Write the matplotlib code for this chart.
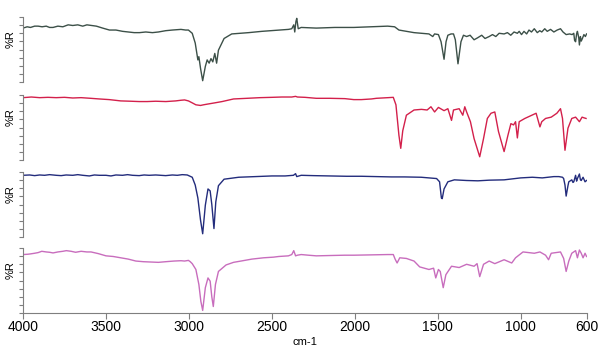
import matplotlib.pyplot as plt

plt.rcParams['font.family'] = ['Liberation Sans', 'DejaVu Sans']

# wavenumber (cm-1) / %R pairs, top to bottom
wn_1 = [4000, 3975, 3955, 3930, 3909, 3885, 3860, 3840, 3819, 3790, 3760, 3728, 3700, 3670, 3640,
        3615, 3585, 3558, 3520, 3479, 3440, 3400, 3366, 3330, 3298, 3260, 3220, 3184, 3140, 3100,
        3048, 3020, 3003, 2980, 2962, 2946, 2940, 2930, 2917, 2901, 2890, 2878, 2867, 2856, 2844,
        2833, 2822, 2788, 2742, 2690, 2640, 2560, 2459, 2400, 2380, 2368, 2362, 2355, 2350, 2341,
        2323, 2232, 2120, 2006, 1900, 1802, 1760, 1734, 1690, 1643, 1600, 1553, 1530, 1519, 1496,
        1480, 1462, 1450, 1439, 1420, 1405, 1394, 1378, 1360, 1345, 1326, 1305, 1281, 1260, 1235,
        1215, 1190, 1170, 1150, 1130, 1100, 1080, 1060, 1040, 1020, 1009, 995, 980, 964, 950,
        935, 918, 900, 885, 873, 855, 840, 820, 800, 780, 760, 745, 726, 705, 690, 680, 675,
        669, 663, 658, 650, 646, 640, 635, 628, 619, 610, 603]
pr_1 = [83, 85, 84, 86, 86, 85, 86, 84, 84, 86, 85, 88, 87, 88, 86,
        88, 87, 86, 83, 80, 80, 78, 77, 76, 76, 77, 76, 77, 79, 80,
        81, 80, 80, 75, 60, 34, 39, 21, 2, 24, 34, 29, 36, 31, 44,
        29, 49, 67, 74, 75, 76, 78, 80, 81, 82, 88, 77, 93, 98, 82,
        84, 83, 84, 84, 85, 86, 85, 80, 78, 76, 75, 74, 70, 74, 73,
        62, 35, 62, 72, 74, 74, 65, 28, 62, 72, 70, 72, 65, 68, 72,
        67, 70, 73, 70, 75, 74, 76, 72, 77, 75, 78, 73, 78, 74, 80,
        77, 82, 76, 79, 77, 82, 78, 81, 77, 80, 82, 77, 73, 74, 73, 75, 64,
        62, 74, 78, 68, 57, 70, 63, 67, 73, 70, 74]

wn_2 = [4000, 3950, 3900, 3850, 3800, 3750, 3700, 3650, 3592, 3540, 3480, 3411, 3350, 3300, 3252,
        3200, 3139, 3080, 3048, 3026, 3003, 2980, 2958, 2930, 2912, 2890, 2844, 2800, 2731, 2650,
        2572, 2500, 2440, 2380, 2357, 2346, 2300, 2232, 2150, 2060, 2006, 1961, 1900, 1870, 1800,
        1768, 1752, 1734, 1723, 1711, 1689, 1643, 1598, 1564, 1541, 1519, 1496, 1462, 1439, 1417,
        1405, 1371, 1349, 1337, 1326, 1303, 1281, 1247, 1224, 1201, 1179, 1156, 1134, 1100, 1077,
        1059, 1043, 1031, 1020, 1009, 975, 941, 907, 884, 873, 850, 816, 782, 760, 748, 733,
        715, 692, 669, 646, 630, 619, 606]
pr_2 = [96, 97, 96, 96.5, 96, 96.5, 95.5, 96, 95, 94, 93, 91, 90.5, 90, 90,
        90.5, 90, 91, 92, 92.5, 91, 88, 85, 84, 85, 86, 88, 90, 94, 95,
        96, 96.5, 97, 97, 98, 97, 96.5, 95, 95, 94.5, 93, 93, 94, 95, 96,
        96.5, 85, 38, 18, 45, 69, 77, 78, 77, 82, 74, 81, 76, 79, 61,
        77, 79, 69, 82, 74, 59, 33, 5, 33, 64, 72, 74, 44, 13, 38,
        56, 54, 59, 34, 59, 64, 68, 72, 51, 59, 64, 66, 72, 79, 64, 15,
        49, 64, 66, 59, 66, 65, 64]

wn_3 = [4000, 3960, 3930, 3900, 3870, 3840, 3800, 3770, 3740, 3700, 3670, 3640, 3600, 3570, 3540,
        3500, 3470, 3440, 3400, 3370, 3340, 3300, 3270, 3240, 3200, 3170, 3140, 3100, 3070, 3040,
        3010, 2980, 2962, 2946, 2930, 2917, 2901, 2885, 2872, 2862, 2849, 2838, 2822, 2788, 2700,
        2600, 2500, 2420, 2370, 2357, 2350, 2323, 2250, 2150, 2050, 1960, 1870, 1780, 1700, 1600,
        1530, 1507, 1489, 1478, 1473, 1462, 1439, 1400, 1326, 1258, 1190, 1100, 1000, 930, 870,
        800, 770, 748, 741, 733, 726, 715, 710, 692, 685, 680, 669, 663, 658, 646, 640, 635,
        624, 612, 603]
pr_3 = [95, 95.5, 94.5, 95.5, 95, 96, 95, 94.5, 95.5, 95, 96, 95, 94, 95.5, 95,
        95, 94, 95.5, 95, 96, 95, 94.5, 95.5, 95, 95.5, 95, 94.5, 95.5, 95, 96,
        95.5, 92, 80, 60, 26, 5, 49, 74, 71, 50, 13, 54, 79, 89, 92,
        93, 94, 94, 95, 97.5, 93, 95, 94.5, 94, 93.5, 93.5, 93, 92.5, 92.5, 92,
        90.5, 90, 85, 60, 59, 74, 85, 88, 87, 86.5, 87.5, 88, 91, 92, 91,
        93, 93, 92, 90, 80, 63, 79, 85, 88, 84, 85, 95, 86, 90, 97, 88, 87,
        92, 85, 87]

wn_4 = [4000, 3970, 3955, 3930, 3909, 3887, 3860, 3840, 3819, 3790, 3760, 3739, 3710, 3683, 3650,
        3615, 3590, 3547, 3500, 3456, 3411, 3366, 3320, 3275, 3230, 3184, 3139, 3090, 3048, 3026,
        3003, 2992, 2980, 2958, 2940, 2928, 2917, 2901, 2885, 2872, 2862, 2853, 2840, 2822, 2776,
        2731, 2686, 2620, 2550, 2490, 2459, 2400, 2380, 2368, 2357, 2346, 2323, 2280, 2232, 2150,
        2060, 2006, 1900, 1802, 1768, 1757, 1745, 1729, 1689, 1643, 1609, 1553, 1525, 1512, 1496,
        1485, 1467, 1451, 1417, 1371, 1326, 1281, 1263, 1247, 1224, 1190, 1156, 1100, 1054, 1031,
        986, 918, 884, 850, 832, 816, 760, 741, 726, 710, 692, 669, 658, 646, 635, 624, 612, 603]
pr_4 = [90, 90.5, 91, 92, 93, 95, 94, 93.5, 92.5, 94, 95, 96, 95, 93.5, 95,
        94, 94, 91.5, 88, 87, 85, 83, 80, 79, 78.5, 78, 79, 80, 80.5, 80,
        81, 79, 76, 67, 44, 18, 4, 39, 54, 49, 25, 10, 44, 64, 74,
        78, 80, 83, 85, 86, 87, 88, 90, 96, 88, 89, 90, 89, 88, 88.5,
        89, 89, 89.5, 90, 90, 83, 77, 85, 84, 80, 71, 67, 69, 54, 67,
        64, 39, 59, 72, 70, 75, 72, 76, 56, 75, 80, 76, 82, 77, 85,
        94, 92, 94, 89, 82, 92, 94, 84, 64, 80, 92, 96, 85, 97, 92, 85, 92, 87]

spectra = [(wn_1, pr_1, '#3c5048'), (wn_2, pr_2, '#d3204b'),
           (wn_3, pr_3, '#232c7c'), (wn_4, pr_4, '#c86dbd')]
panel_bottoms = [0.7677, 0.5467, 0.3286, 0.1133]
xticks = [4000, 3500, 3000, 2500, 2000, 1500, 1000, 600]

fig = plt.figure(figsize=(6.14, 3.53), dpi=100)
axes = []
for i, (wn, pr, col) in enumerate(spectra):
    ax = fig.add_axes([0.0375, panel_bottoms[i], 0.9186, 0.184])
    ax.plot(wn, pr, color=col, linewidth=1)
    ax.set_xlim(4000, 600)
    ax.set_ylim(0, 100)
    for s in ['top', 'right', 'bottom']:
        ax.spines[s].set_visible(False)
    ax.spines['left'].set_color('#7f7f7f')
    ax.set_yticks([j * 12.5 for j in range(9)])
    ax.tick_params(axis='y', direction='out', length=3, color='#7f7f7f', labelleft=False)
    ax.text(-0.013, 0.66, '%R', transform=ax.transAxes, rotation=90,
            ha='right', va='center', fontsize=8)
    if i < 3:
        ax.set_xticks([])
    axes.append(ax)

ax = axes[-1]
ax.spines['bottom'].set_visible(True)
ax.spines['bottom'].set_color('#7f7f7f')
ax.set_xticks(xticks)
ax.set_xticklabels([str(t) for t in xticks])
ax.tick_params(axis='x', direction='out', length=4, color='#7f7f7f', labelsize=10, pad=1)
ax.set_xlabel('cm-1', fontsize=8, labelpad=2)

fig.savefig('out.png', dpi=100)
